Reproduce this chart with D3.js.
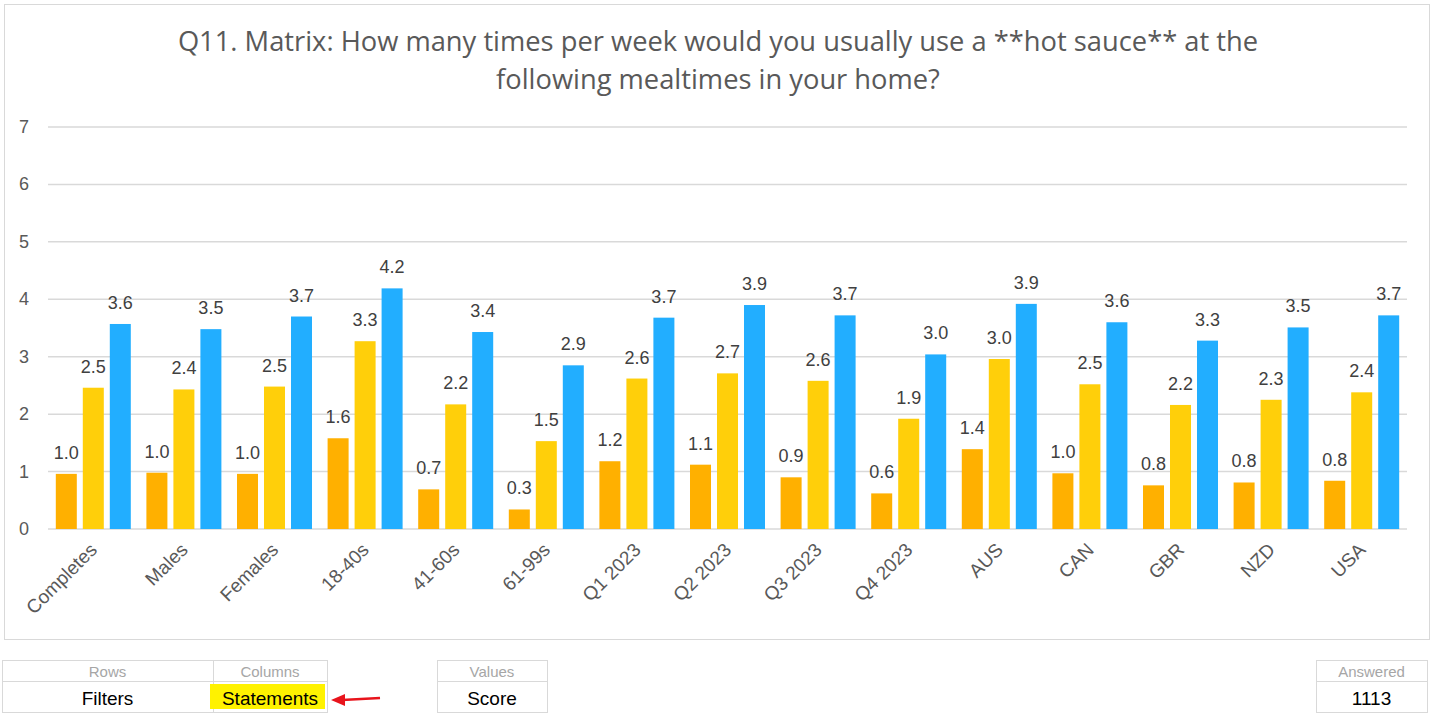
<!DOCTYPE html>
<html>
<head>
<meta charset="utf-8">
<script src="https://cdn.jsdelivr.net/npm/d3@7"></script>
<style>
  body { margin: 0; background: #fff; }
  svg { font-family: "Liberation Sans", Arial, sans-serif; }
</style>
</head>
<body>
<svg id="chart" width="1435" height="718"></svg>
<script>
// data
var categories = ["Completes", "Males", "Females", "18-40s", "41-60s", "61-99s",
  "Q1 2023", "Q2 2023", "Q3 2023", "Q4 2023", "AUS", "CAN", "GBR", "NZD", "USA"];
var seriesA = [0.96, 0.98, 0.96, 1.58, 0.69, 0.34, 1.18, 1.12, 0.90, 0.62, 1.39, 0.97, 0.76, 0.81, 0.84];
var seriesB = [2.46, 2.43, 2.48, 3.27, 2.17, 1.53, 2.62, 2.71, 2.58, 1.92, 2.96, 2.52, 2.16, 2.25, 2.38];
var seriesC = [3.57, 3.48, 3.70, 4.19, 3.43, 2.85, 3.68, 3.90, 3.72, 3.04, 3.92, 3.60, 3.28, 3.51, 3.72];
var yTicks = [0, 1, 2, 3, 4, 5, 6, 7];
var titleLines = ["Q11. Matrix: How many times per week would you usually use a **hot sauce** at the",
  "following mealtimes in your home?"];
var boxes = [
  {head: "Rows", val: "Filters", x0: 2, x1: 213},
  {head: "Columns", val: "Statements", x0: 213, x1: 327, mark: true},
  {head: "Values", val: "Score", x0: 437, x1: 547},
  {head: "Answered", val: "1113", x0: 1316, x1: 1427}
];

var svg = d3.select("#chart");
var colors = ["#FFB000", "#FFCF0A", "#22AEFF"];
var series = [seriesA, seriesB, seriesC];

// outer chart frame
svg.append("rect").attr("x", 4.5).attr("y", 4.5).attr("width", 1425).attr("height", 635)
  .attr("fill", "#fff").attr("stroke", "#d9d9d9").attr("stroke-width", 1);

svg.selectAll(".title").data(titleLines).enter().append("text")
  .attr("x", 718).attr("y", function(d, i) { return 51 + i * 38; })
  .attr("text-anchor", "middle").attr("font-size", "27.3px").attr("fill", "#595959")
  .attr("font-family", "'Open Sans', sans-serif")
  .text(function(d) { return d; });

var x = d3.scaleBand().domain(categories).range([48, 1407]);
var y = d3.scaleLinear().domain([0, 7]).range([529, 127]);
var inner = d3.scaleBand().domain([0, 1, 2]).range([0, 75]).paddingInner(0.222);

// grid
svg.selectAll(".grid").data(yTicks).enter().append("line")
  .attr("x1", 48).attr("x2", 1407)
  .attr("y1", function(d) { return y(d); }).attr("y2", function(d) { return y(d); })
  .attr("stroke", "#d9d9d9").attr("stroke-width", 1.5);

svg.selectAll(".ytick").data(yTicks).enter().append("text")
  .attr("x", 29).attr("y", function(d) { return y(d) + 6; })
  .attr("text-anchor", "end").attr("font-size", "18px").attr("fill", "#595959")
  .text(function(d) { return d; });

var groups = svg.selectAll(".grp").data(categories).enter().append("g")
  .attr("transform", function(d) { return "translate(" + (x(d) + x.bandwidth() / 2 - 37.5) + ",0)"; });

groups.each(function(cat, ci) {
  var g = d3.select(this);
  series.forEach(function(s, si) {
    g.append("rect")
      .attr("x", inner(si)).attr("width", inner.bandwidth())
      .attr("y", y(s[ci])).attr("height", y(0) - y(s[ci]))
      .attr("fill", colors[si]);
    g.append("text")
      .attr("x", inner(si) + inner.bandwidth() / 2).attr("y", y(s[ci]) - 15)
      .attr("text-anchor", "middle").attr("font-size", "18px").attr("fill", "#404040")
      .text(s[ci].toFixed(1));
  });
});

svg.selectAll(".xlab").data(categories).enter().append("text")
  .attr("transform", function(d) {
    return "translate(" + (x(d) + x.bandwidth() / 2 + 5) + ",551) rotate(-45)";
  })
  .attr("text-anchor", "end").attr("font-size", "19px").attr("fill", "#595959")
  .text(function(d) { return d; });

// footer boxes
boxes.forEach(function(b) {
  var w = b.x1 - b.x0;
  svg.append("rect").attr("x", b.x0 + 0.5).attr("y", 660.5).attr("width", w).attr("height", 52)
    .attr("fill", "none").attr("stroke", "#d9d9d9");
  svg.append("line").attr("x1", b.x0).attr("x2", b.x1).attr("y1", 681.5).attr("y2", 681.5)
    .attr("stroke", "#d9d9d9");
  svg.append("text").attr("x", b.x0 + w / 2).attr("y", 677).attr("text-anchor", "middle")
    .attr("font-size", "15px").attr("fill", "#a6a6a6").text(b.head);
  if (b.mark) {
    svg.append("rect").attr("x", b.x0 - 3).attr("y", 684).attr("width", w + 1).attr("height", 25)
      .attr("fill", "#FFF200");
  }
  svg.append("text").attr("x", b.x0 + w / 2).attr("y", 705).attr("text-anchor", "middle")
    .attr("font-size", "19px").attr("fill", "#000").text(b.val);
});

// red arrow pointing at the highlighted box
svg.append("line").attr("x1", 380).attr("y1", 698).attr("x2", 342).attr("y2", 700)
  .attr("stroke", "#e8141c").attr("stroke-width", 2.5);
svg.append("path").attr("d", "M331,700 L345,694 L345,706 Z").attr("fill", "#e8141c");
</script>
</body>
</html>
